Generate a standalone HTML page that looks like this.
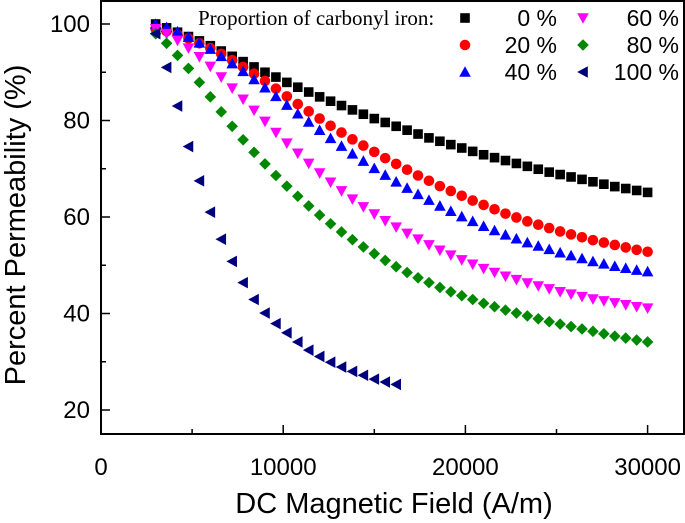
<!DOCTYPE html>
<html><head><meta charset="utf-8"><style>
body{margin:0;background:#fff;}
svg{display:block;font-family:"Liberation Sans",sans-serif;}
</style></head><body>
<svg id="chart" width="685" height="523" xmlns="http://www.w3.org/2000/svg"></svg>
<script>
const xTicks=[0,10000,20000,30000];
const yTicks=[20,40,60,80,100];
const seriesNames=["0 %","20 %","40 %","60 %","80 %","100 %"];
const xStart=3000, xStep=600;
const s0=[100,99.2,98.3,97.4,96.5,95.5,94.4,93.3,92.2,91.1,90.0,89.0,87.9,86.9,85.9,84.9,84.0,83.1,82.2,81.3,80.4,79.6,78.8,78.0,77.2,76.4,75.7,75.0,74.3,73.6,72.9,72.3,71.7,71.1,70.5,69.9,69.3,68.8,68.3,67.8,67.3,66.8,66.3,65.9,65.5,65.1];
const s20=[99,98.5,97.8,97,96,95,93.8,92.5,91.1,89.7,88.2,86.6,85,83.4,81.9,80.4,78.9,77.5,76.1,74.8,73.5,72.2,71,69.8,68.6,67.5,66.4,65.4,64.4,63.4,62.5,61.6,60.7,59.9,59.1,58.4,57.7,57.0,56.4,55.8,55.2,54.7,54.2,53.7,53.2,52.8];
const s40=[100,99.3,98.4,97.3,96.1,94.8,93.3,91.8,90.2,88.5,86.8,85.0,83.2,81.4,79.7,78.0,76.3,74.7,73.1,71.6,70.1,68.7,67.3,66.0,64.7,63.5,62.3,61.2,60.1,59.1,58.1,57.2,56.3,55.5,54.7,54.0,53.3,52.6,52.0,51.4,50.8,50.3,49.8,49.4,49.0,48.7];
const s60=[99,98,96.6,95,93.2,91.2,89.0,86.7,84.4,82.1,79.8,77.5,75.3,73.2,71.1,69.1,67.2,65.4,63.7,62.1,60.6,59.2,57.9,56.6,55.4,54.2,53.1,52.1,51.1,50.2,49.3,48.5,47.7,47.0,46.3,45.7,45.1,44.5,44.0,43.5,43.0,42.6,42.2,41.8,41.4,41.1];
const s80=[98,96,93.5,90.8,87.9,84.9,81.8,78.8,76.0,73.4,71.0,68.6,66.4,64.3,62.3,60.4,58.6,56.9,55.3,53.8,52.4,51.0,49.7,48.5,47.4,46.4,45.4,44.5,43.7,42.9,42.1,41.4,40.7,40.1,39.5,38.9,38.3,37.8,37.3,36.8,36.3,35.8,35.3,34.9,34.5,34.1];
const s100=[98,91,83,74.6,67.5,61,55.4,50.8,46.4,42.9,40.1,37.9,36,34.1,32.4,31.1,29.9,28.9,28,27.2,26.4,25.8,25.3];
const seriesData=[s0,s20,s40,s60,s80,s100];
const colors=["#000","#f00","#00f","#f0f","#080","#00007f"];
const shapes=["square","circle","up","down","diamond","left"];

const NS="http://www.w3.org/2000/svg";
const svg=document.getElementById('chart');
const L=101,R=684,T=1,B=434;
const X=v=>L+(v/10000)*182.2;
const Y=v=>410-(v-20)*4.825;
function mk(tag,at,parent){const e=document.createElementNS(NS,tag);for(const k in at)e.setAttribute(k,at[k]);(parent||svg).appendChild(e);return e;}

const frame=mk('rect',{x:L,y:T,width:R-L,height:B-T,fill:'none',stroke:'#000','stroke-width':2});



xTicks.forEach(v=>{
  const t=mk('line',{x1:X(v),x2:X(v),y1:B,y2:B-9,stroke:'#000','stroke-width':1.5});
  
  
  const m=mk('line',{x1:X(v+5000),x2:X(v+5000),y1:B,y2:B-5,stroke:'#000','stroke-width':1.5});
  
  
  const lb=mk('text',{x:X(v),y:475,'text-anchor':'middle','font-size':24});
  lb.textContent=v;
  
  
});
yTicks.forEach(v=>{
  const t=mk('line',{x1:L,x2:L+9,y1:Y(v),y2:Y(v),stroke:'#000','stroke-width':1.5});
  
  
  if(v<100){const m=mk('line',{x1:L,x2:L+5,y1:Y(v+10),y2:Y(v+10),stroke:'#000','stroke-width':1.5});
  
  }
  const lb=mk('text',{x:90,y:Y(v)+8,'text-anchor':'end','font-size':24});
  lb.textContent=v;
  
  
});
const xt=mk('text',{x:394,y:513,'text-anchor':'middle','font-size':29});
xt.textContent='DC Magnetic Field (A/m)';


const yt=mk('text',{x:0,y:0,'text-anchor':'middle','font-size':29,transform:'translate(25,225) rotate(-90)'});
yt.textContent='Percent Permeability (%)';



function marker(shape,cx,cy,c,g){
  const r=4.8;
  if(shape==='square')return mk('rect',{x:cx-r,y:cy-r,width:2*r,height:2*r,fill:c},g);
  if(shape==='circle')return mk('circle',{cx,cy,r:r+0.5,fill:c},g);
  let p;
  if(shape==='up')p=[[cx,cy-r-1],[cx+r+1,cy+r],[cx-r-1,cy+r]];
  if(shape==='down')p=[[cx,cy+r+1],[cx+r+1,cy-r],[cx-r-1,cy-r]];
  if(shape==='diamond')p=[[cx,cy-r-1],[cx+r+1,cy],[cx,cy+r+1],[cx-r-1,cy]];
  if(shape==='left')p=[[cx-r-1,cy],[cx+r,cy-r-1],[cx+r,cy+r+1]];
  return mk('polygon',{points:p.map(q=>q.join(',')).join(' '),fill:c},g);
}
seriesData.forEach((arr,si)=>{
  const g=mk('g',{});
  
  
  arr.forEach((v,i)=>{
    const m=marker(shapes[si],X(xStart+xStep*i),Y(v),colors[si],g);
    
    
  });
});
// legend
const lg=mk('g',{});


const lt=mk('text',{x:198,y:25,'font-size':21,'font-family':'"Liberation Serif",serif'},lg);
lt.textContent='Proportion of carbonyl iron:';


seriesNames.forEach((n,i)=>{
  const c=i<3?0:1, r=i%3;
  const cx=c?583:465, cy=18+r*27;
  const m=marker(shapes[i],cx,cy,colors[i],lg);
  
  
  const t=mk('text',{x:c?679:557,y:cy+8,'text-anchor':'end','font-size':23},lg);
  t.textContent=n;
  
  
});
</script>
</body></html>
